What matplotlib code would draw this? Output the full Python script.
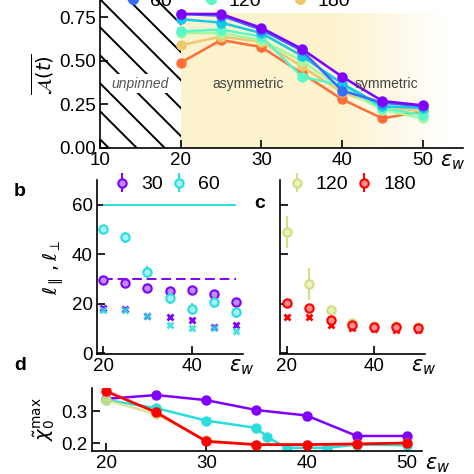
import numpy as np
import matplotlib
matplotlib.use('Agg')
import matplotlib.pyplot as plt
from matplotlib.lines import Line2D
from matplotlib.ticker import FormatStrFormatter

plt.rcParams['font.family'] = ['Liberation Sans', 'DejaVu Sans']
plt.rcParams['mathtext.fontset'] = 'dejavusans'
plt.rcParams['xtick.direction'] = 'in'
plt.rcParams['ytick.direction'] = 'in'
plt.rcParams['axes.linewidth'] = 1.2

# ---- data ----
eps = [20, 25, 30, 35, 40, 45, 50]

# panel a: A(t) for each pinning length
a_labels = ['30', '60', '90', '120', '150', '180', '210']
a_30 = [0.77, 0.77, 0.69, 0.57, 0.41, 0.27, 0.245]
a_60 = [0.77, 0.76, 0.68, 0.56, 0.33, 0.26, 0.24]
a_90 = [0.74, 0.72, 0.66, 0.53, 0.37, 0.24, 0.23]
a_120 = [0.67, 0.68, 0.64, 0.41, 0.36, 0.23, 0.19]
a_150 = [0.66, 0.66, 0.62, 0.50, 0.34, 0.22, 0.17]
a_180 = [0.59, 0.64, 0.61, 0.47, 0.32, 0.24, 0.21]
a_210 = [0.49, 0.62, 0.58, 0.43, 0.28, 0.17, 0.21]

# panel b: l_par (circles) and l_perp (crosses)
par_30 = [29.5, 28.3, 26.2, 25.0, 25.3, 23.9, 20.6]
par_30_err = [0.8, 0.8, 0.8, 0.8, 0.8, 0.8, 1.0]
par_60 = [50.0, 46.9, 32.7, 22.2, 17.8, 20.6, 16.6]
par_60_err = [1.8, 2.2, 2.5, 2.5, 2.5, 2.5, 2.5]
perp_30 = [18.2, 18.0, 15.0, 14.5, 13.3, 10.5, 11.3]
perp_60 = [17.5, 17.5, 15.0, 11.2, 10.0, 10.0, 8.9]

# panel c
par_120 = [48.9, 27.9, 17.4, 12.1, 11.0, 11.0, 10.5]
par_120_err = [6.5, 6.5, 1.2, 0.8, 0.8, 0.8, 0.8]
par_180 = [20.2, 18.2, 13.3, 11.3, 10.5, 10.5, 10.3]
par_180_err = [0.8, 0.8, 0.8, 0.8, 0.8, 0.8, 0.8]
perp_180 = [14.5, 14.5, 11.3, 10.1, 9.8, 9.5, 9.3]

# panel d: chi_0^max
chi_30 = [0.338, 0.350, 0.334, 0.303, 0.286, 0.222, 0.222]
chi_30_err = [0.003, 0.003, 0.003, 0.004, 0.01, 0.004, 0.004]
eps_60d = [20, 25, 30, 35, 36, 38, 42, 45, 50]
chi_60 = [0.335, 0.309, 0.270, 0.247, 0.220, 0.185, 0.185, 0.195, 0.193]
chi_60_err = [0.004, 0.004, 0.004, 0.006, 0.012, 0.004, 0.004, 0.004, 0.004]
chi_120 = [0.335, 0.290, 0.208, 0.195, 0.195, 0.197, 0.200]
chi_180 = [0.362, 0.296, 0.205, 0.195, 0.195, 0.197, 0.200]

cmap = plt.get_cmap('rainbow')
c30, c60, c120, c180 = cmap(0.0), cmap(1/3), cmap(2/3), cmap(1.0)

W = 474.0
def box(l, r, t, b):
    return [l / W, 1 - b / W, (r - l) / W, (b - t) / W]

fig = plt.figure(figsize=(4.74, 4.74), dpi=100)

# ---------------- panel a ----------------
ax = fig.add_axes(box(100, 463, 0, 148))
ax.set_xlim(10, 55)
ax.set_ylim(0, 0.85)
for s in ['top', 'right']:
    ax.spines[s].set_visible(False)

# unpinned hatch region
span = ax.axvspan(10, 20, color='none', zorder=0)
fx_end = (20 - 10) / 45.0
aspect = 363.0 / 148.0
for x0 in np.arange(-0.6, fx_end + 0.1, 28 / 363.0):
    xs = np.array([x0 - 0.5, x0 + 0.5]) + 0.034
    ys = 0.88 - (xs - x0 - 0.034) * aspect
    ln, = ax.plot(xs, ys, color='black', lw=1.4, transform=ax.transAxes, zorder=0.5)
    ln.set_clip_path(span)

# cream gradient region
xg = np.linspace(0, 1, 200)
alpha = np.clip((1 - xg) / 0.45, 0, 1)
grad = np.zeros((1, 200, 4))
grad[..., 0] = 0.99
grad[..., 1] = 0.95
grad[..., 2] = 0.80
grad[..., 3] = alpha
ax.imshow(grad, extent=[20, 53, 0, 0.775], aspect='auto', zorder=0.2, interpolation='bilinear')

a_series = [a_30, a_60, a_90, a_120, a_150, a_180, a_210]
handles = []
for i, (lab, vals) in enumerate(zip(a_labels, a_series)):
    col = cmap(i / 7)
    ax.plot(eps, vals, '-o', color=col, lw=1.8, ms=6.5, zorder=2 + (7 - i) * 0.1)
    handles.append(Line2D([], [], ls='none', marker='o', ms=7, color=col, label=lab))

fig.legend(handles=handles, ncol=4, loc='lower left', bbox_to_anchor=(125 / W, 1 - 10 / W),
           frameon=False, fontsize=14, handlelength=0.8, handletextpad=0.5,
           columnspacing=1.6, borderpad=0, borderaxespad=0)

ax.text(15, 0.37, 'unpinned', style='italic', color='#555555', fontsize=10, ha='center', va='center',
        bbox=dict(facecolor='white', edgecolor='none', pad=1.5), zorder=1)
ax.text(28.3, 0.37, 'asymmetric', color='#444444', fontsize=10, ha='center', va='center')
ax.text(45.5, 0.37, 'symmetric', color='#444444', fontsize=10, ha='center', va='center')

ax.set_xticks([10, 20, 30, 40, 50])
ax.set_yticks([0, 0.25, 0.5, 0.75])
ax.yaxis.set_major_formatter(FormatStrFormatter('%.2f'))
ax.tick_params(labelsize=13.5, length=6, width=1.2, pad=3)
ax.set_ylabel(r'$\overline{\mathcal{A}(t)}$', fontsize=14, labelpad=2)
fig.text(453 / W, 1 - 162 / W, r'$\varepsilon_w$', fontsize=15, ha='center', va='center')

# ---------------- panel b ----------------
bx = fig.add_axes(box(97, 243, 180, 354))
bx.set_xlim(18.65, 51.5)
bx.set_ylim(-0.4, 70)
for s in ['top', 'right']:
    bx.spines[s].set_visible(False)
bx.hlines(60, 20, 50, color=c60, lw=1.4)
bx.hlines(30, 20, 50, color=c30, lw=1.4, linestyles=(0, (5, 2.5)))
e30 = bx.errorbar(eps, par_30, yerr=par_30_err, fmt='o', color=c30, mfc=(0.75, 0.55, 1.0),
                  ms=6, mew=1.5, elinewidth=1.5, capsize=0, label='30')
e60 = bx.errorbar(eps, par_60, yerr=par_60_err, fmt='o', color=c60, mfc=(0.65, 0.95, 0.95),
                  ms=6, mew=1.5, elinewidth=1.5, capsize=0, label='60')
bx.plot(eps, perp_30, 'x', color=c30, ms=5, mew=2)
bx.plot(eps, perp_60, 'x', color=c60, ms=5, mew=2, alpha=0.85)
bx.set_xticks([20, 40])
bx.set_yticks([0, 20, 40, 60])
bx.tick_params(labelsize=13.5, length=6, width=1.2, pad=3)
bx.set_ylabel(r'$\ell_\parallel\,,\ell_\perp$', fontsize=14, labelpad=4)
bx.legend(handles=[e30, e60], ncol=2, loc='upper center', bbox_to_anchor=(0.48, 1.08),
          frameon=False, fontsize=14, handlelength=0.8, handletextpad=0.6,
          columnspacing=0.4, borderpad=0)
fig.text(242 / W, 1 - 367 / W, r'$\varepsilon_w$', fontsize=15, ha='center', va='center')
fig.text(20 / W, 1 - 192 / W, 'b', fontsize=14, fontweight='bold', ha='center', va='center')

# ---------------- panel c ----------------
cx = fig.add_axes(box(280, 425, 180, 354))
cx.set_xlim(18.4, 51.7)
cx.set_ylim(-0.4, 70)
for s in ['top', 'right']:
    cx.spines[s].set_visible(False)
e120 = cx.errorbar(eps, par_120, yerr=par_120_err, fmt='o', color=c120, mfc=(0.92, 0.95, 0.75),
                   ms=6, mew=1.5, elinewidth=1.5, capsize=0, label='120')
e180 = cx.errorbar(eps, par_180, yerr=par_180_err, fmt='o', color=c180, mfc=(1.0, 0.55, 0.55),
                   ms=6, mew=1.5, elinewidth=1.5, capsize=0, label='180')
cx.plot(eps, perp_180, 'x', color=c180, ms=5, mew=2)
cx.set_xticks([20, 40])
cx.set_yticks([0, 20, 40, 60])
cx.set_yticklabels([])
cx.tick_params(labelsize=13.5, length=6, width=1.2, pad=3)
cx.legend(handles=[e120, e180], ncol=2, loc='upper center', bbox_to_anchor=(0.5, 1.08),
          frameon=False, fontsize=14, handlelength=0.8, handletextpad=0.6,
          columnspacing=0.4, borderpad=0)
fig.text(424 / W, 1 - 367 / W, r'$\varepsilon_w$', fontsize=15, ha='center', va='center')
fig.text(260 / W, 1 - 203 / W, 'c', fontsize=14, fontweight='bold', ha='center', va='center')

# ---------------- panel d ----------------
dx = fig.add_axes(box(92, 422, 388, 451))
dx.set_xlim(18.6, 51.5)
dx.set_ylim(0.175, 0.372)
for s in ['top', 'right']:
    dx.spines[s].set_visible(False)
dx.errorbar(eps, chi_30, yerr=chi_30_err, fmt='-o', color=c30, lw=1.8, ms=6.5, capsize=0,
            elinewidth=1.5)
dx.errorbar(eps_60d, chi_60, yerr=chi_60_err, fmt='-o', color=c60, lw=1.8, ms=6.5, capsize=0,
            elinewidth=1.5)
dx.errorbar(eps, chi_120, yerr=0.008, fmt='-o', color=c120, lw=1.8, ms=6.5, capsize=0,
            elinewidth=1.5, alpha=0.8)
dx.plot(eps, chi_180, '-o', color=c180, lw=2.0, ms=6.5, zorder=5)
dx.set_xticks([20, 30, 40, 50])
dx.set_yticks([0.2, 0.3])
dx.tick_params(labelsize=13.5, length=6, width=1.2, pad=3)
dx.set_ylabel(r'$\tilde{\chi}_0^{\rm max}$', fontsize=14, labelpad=3)
fig.text(438 / W, 1 - 465 / W, r'$\varepsilon_w$', fontsize=15, ha='center', va='center')
fig.text(20 / W, 1 - 365 / W, 'd', fontsize=14, fontweight='bold', ha='center', va='center')

fig.savefig('out.png', dpi=100)
